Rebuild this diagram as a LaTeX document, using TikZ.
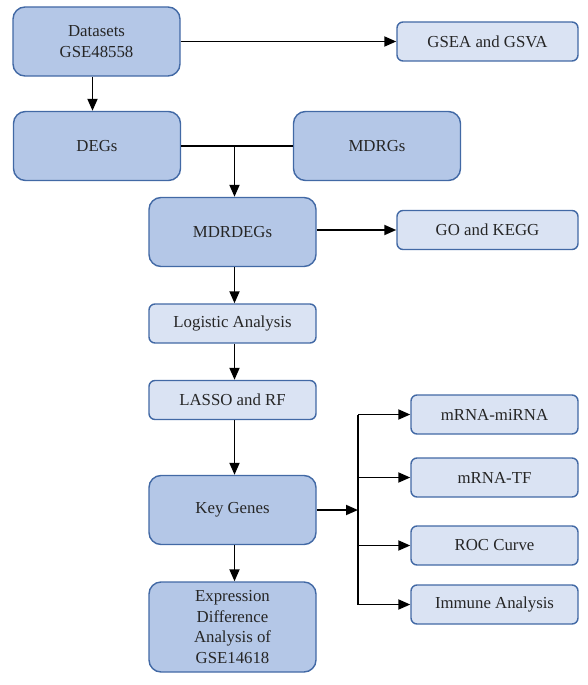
\documentclass[tikz,border=0pt]{standalone}
\usepackage{fontspec}
\setmainfont{Liberation Serif}
\usetikzlibrary{arrows.meta, positioning}
\definecolor{boxdark}{HTML}{B4C7E7}
\definecolor{boxlight}{HTML}{DAE3F3}
\definecolor{boxedge}{HTML}{4269A5}

\begin{document}
\begin{tikzpicture}[
  x=1pt, y=-1pt,
  every node/.style={font=\fontsize{16.8}{20.5}\selectfont, text=black!85},
  bigbox/.style={draw=boxedge, line width=1.4pt, fill=boxdark,
    rounded corners=12pt, minimum width=167pt, minimum height=69pt,
    inner sep=0pt, align=center},
  smallbox/.style={draw=boxedge, line width=1.4pt, fill=boxlight,
    rounded corners=6pt, minimum width=167pt, minimum height=39pt,
    inner sep=0pt, align=center},
  flow/.style={-{Triangle[length=12pt, width=10pt]}, line width=1.8pt},
  link/.style={line width=1.8pt}
]
\useasboundingbox (0,0) rectangle (588,685);

% main column
\node[bigbox] (data) at (96.5,41.5) {Datasets\\GSE48558};
\node[bigbox] (degs) at (97,146) {DEGs};
\node[bigbox] (mdrgs) at (377,146) {MDRGs};
\node[bigbox] (mdrdegs) at (232.5,232) {MDRDEGs};
\node[smallbox] (logit) at (232.5,323.5) {Logistic Analysis};
\node[smallbox] (lasso) at (232.5,400) {LASSO and RF};
\node[bigbox] (key) at (232.5,510) {Key Genes};
\node[bigbox, minimum height=90pt] (expr) at (232.5,627)
  {Expression\\Difference\\Analysis of\\GSE14618};

% side analyses
\node[smallbox, minimum width=181pt] (gsea) at (487.5,41.5) {GSEA and GSVA};
\node[smallbox, minimum width=181pt] (gokegg) at (487.5,230) {GO and KEGG};

% key gene branches
\node[smallbox] (mirna) at (494.5,414.5) {mRNA-miRNA};
\node[smallbox] (tf) at (494.5,477.5) {mRNA-TF};
\node[smallbox] (roc) at (494.5,545.5) {ROC Curve};
\node[smallbox] (immune) at (494.5,604.5) {Immune Analysis};

% connectors
\draw[flow] (data.east) -- (gsea.west);
\coordinate (datadrop) at ([xshift=-4pt]data.south);
\draw[flow] (datadrop) -- (datadrop |- degs.north);
\draw[link] (degs.east) -- (mdrgs.west);
\coordinate (merge) at ([xshift=2pt]mdrdegs.north |- degs.east);
\draw[flow] (merge) -- (merge |- mdrdegs.north);
\draw[flow] ([yshift=2pt]mdrdegs.east) -- ([yshift=2pt]mdrdegs.east -| gokegg.west);
\foreach \upper/\lower in {mdrdegs/logit, logit/lasso, lasso/key, key/expr}
  \draw[flow] ([xshift=2pt]\upper.south) -- ([xshift=2pt]\lower.north);

% branch bus
\coordinate (bus) at (358,510);
\draw[flow] (key.east) -- (bus);
\draw[link] (bus |- mirna.west) -- (bus |- immune.west);
\foreach \target in {mirna, tf, roc, immune}
  \draw[flow] (bus |- \target.west) -- (\target.west);

\end{tikzpicture}
\end{document}
